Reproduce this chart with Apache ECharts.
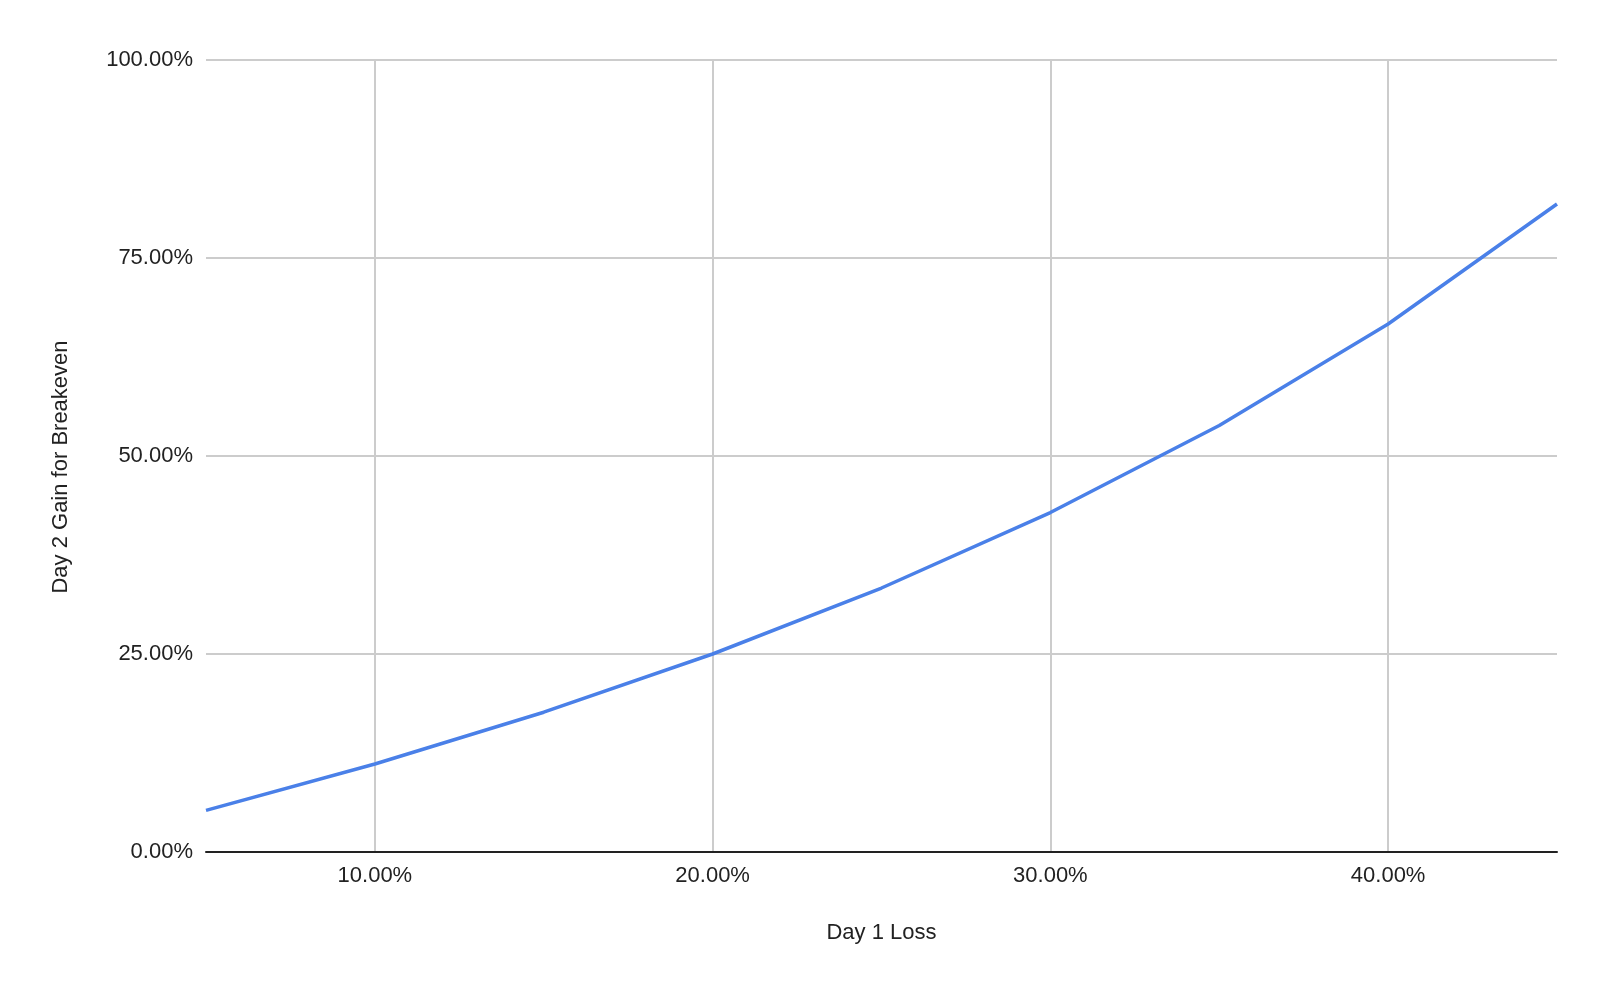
<!DOCTYPE html>
<html><head><meta charset="utf-8">
<script src="https://cdn.jsdelivr.net/npm/echarts@6/dist/echarts.min.js"></script>
<style>html,body{margin:0;padding:0;background:#fff}#c{width:1600px;height:988px}</style>
</head><body><div id="c"></div>
<script>
var day1Loss = [5, 10, 15, 20, 25, 30, 35, 40, 45];
var day2Gain = [5.26, 11.11, 17.65, 25.00, 33.33, 42.86, 53.85, 66.67, 81.82];
var xTicks = [10, 20, 30, 40];
var yTicks = [0, 25, 50, 75, 100];
var font = 'Liberation Sans, Arial, sans-serif';
var chart = echarts.init(document.getElementById('c'));
chart.setOption({
  animation: false,
  grid: {left: 206, right: 43, top: 60, bottom: 136},
  xAxis: {
    type: 'value', min: 5, max: 45,
    name: 'Day 1 Loss', nameLocation: 'middle', nameGap: 70,
    nameTextStyle: {fontFamily: font, fontSize: 22, color: '#222'},
    axisLine: {lineStyle: {color: '#222', width: 2}},
    axisTick: {show: false, customValues: xTicks},
    axisLabel: {fontFamily: font, fontSize: 22, color: '#222', margin: 13, customValues: xTicks,
      formatter: function (v) { return v.toFixed(2) + '%'; }},
    splitLine: {show: true, lineStyle: {color: '#cccccc', width: 2}}
  },
  yAxis: {
    type: 'value', min: 0, max: 100, interval: 25,
    name: 'Day 2 Gain for Breakeven', nameLocation: 'middle', nameGap: 134,
    nameTextStyle: {fontFamily: font, fontSize: 22, color: '#222', padding: [0, 22, 0, 0]},
    axisLine: {show: false}, axisTick: {show: false},
    axisLabel: {fontFamily: font, fontSize: 22, color: '#222', margin: 13,
      formatter: function (v) { return v.toFixed(2) + '%'; }},
    splitLine: {lineStyle: {color: '#cccccc', width: 2}}
  },
  series: [{
    type: 'line', data: day1Loss.map(function (x, i) { return [x, day2Gain[i]]; }),
    showSymbol: false, symbol: 'none',
    lineStyle: {color: '#4a80e8', width: 3.5}
  }]
});
</script></body></html>
